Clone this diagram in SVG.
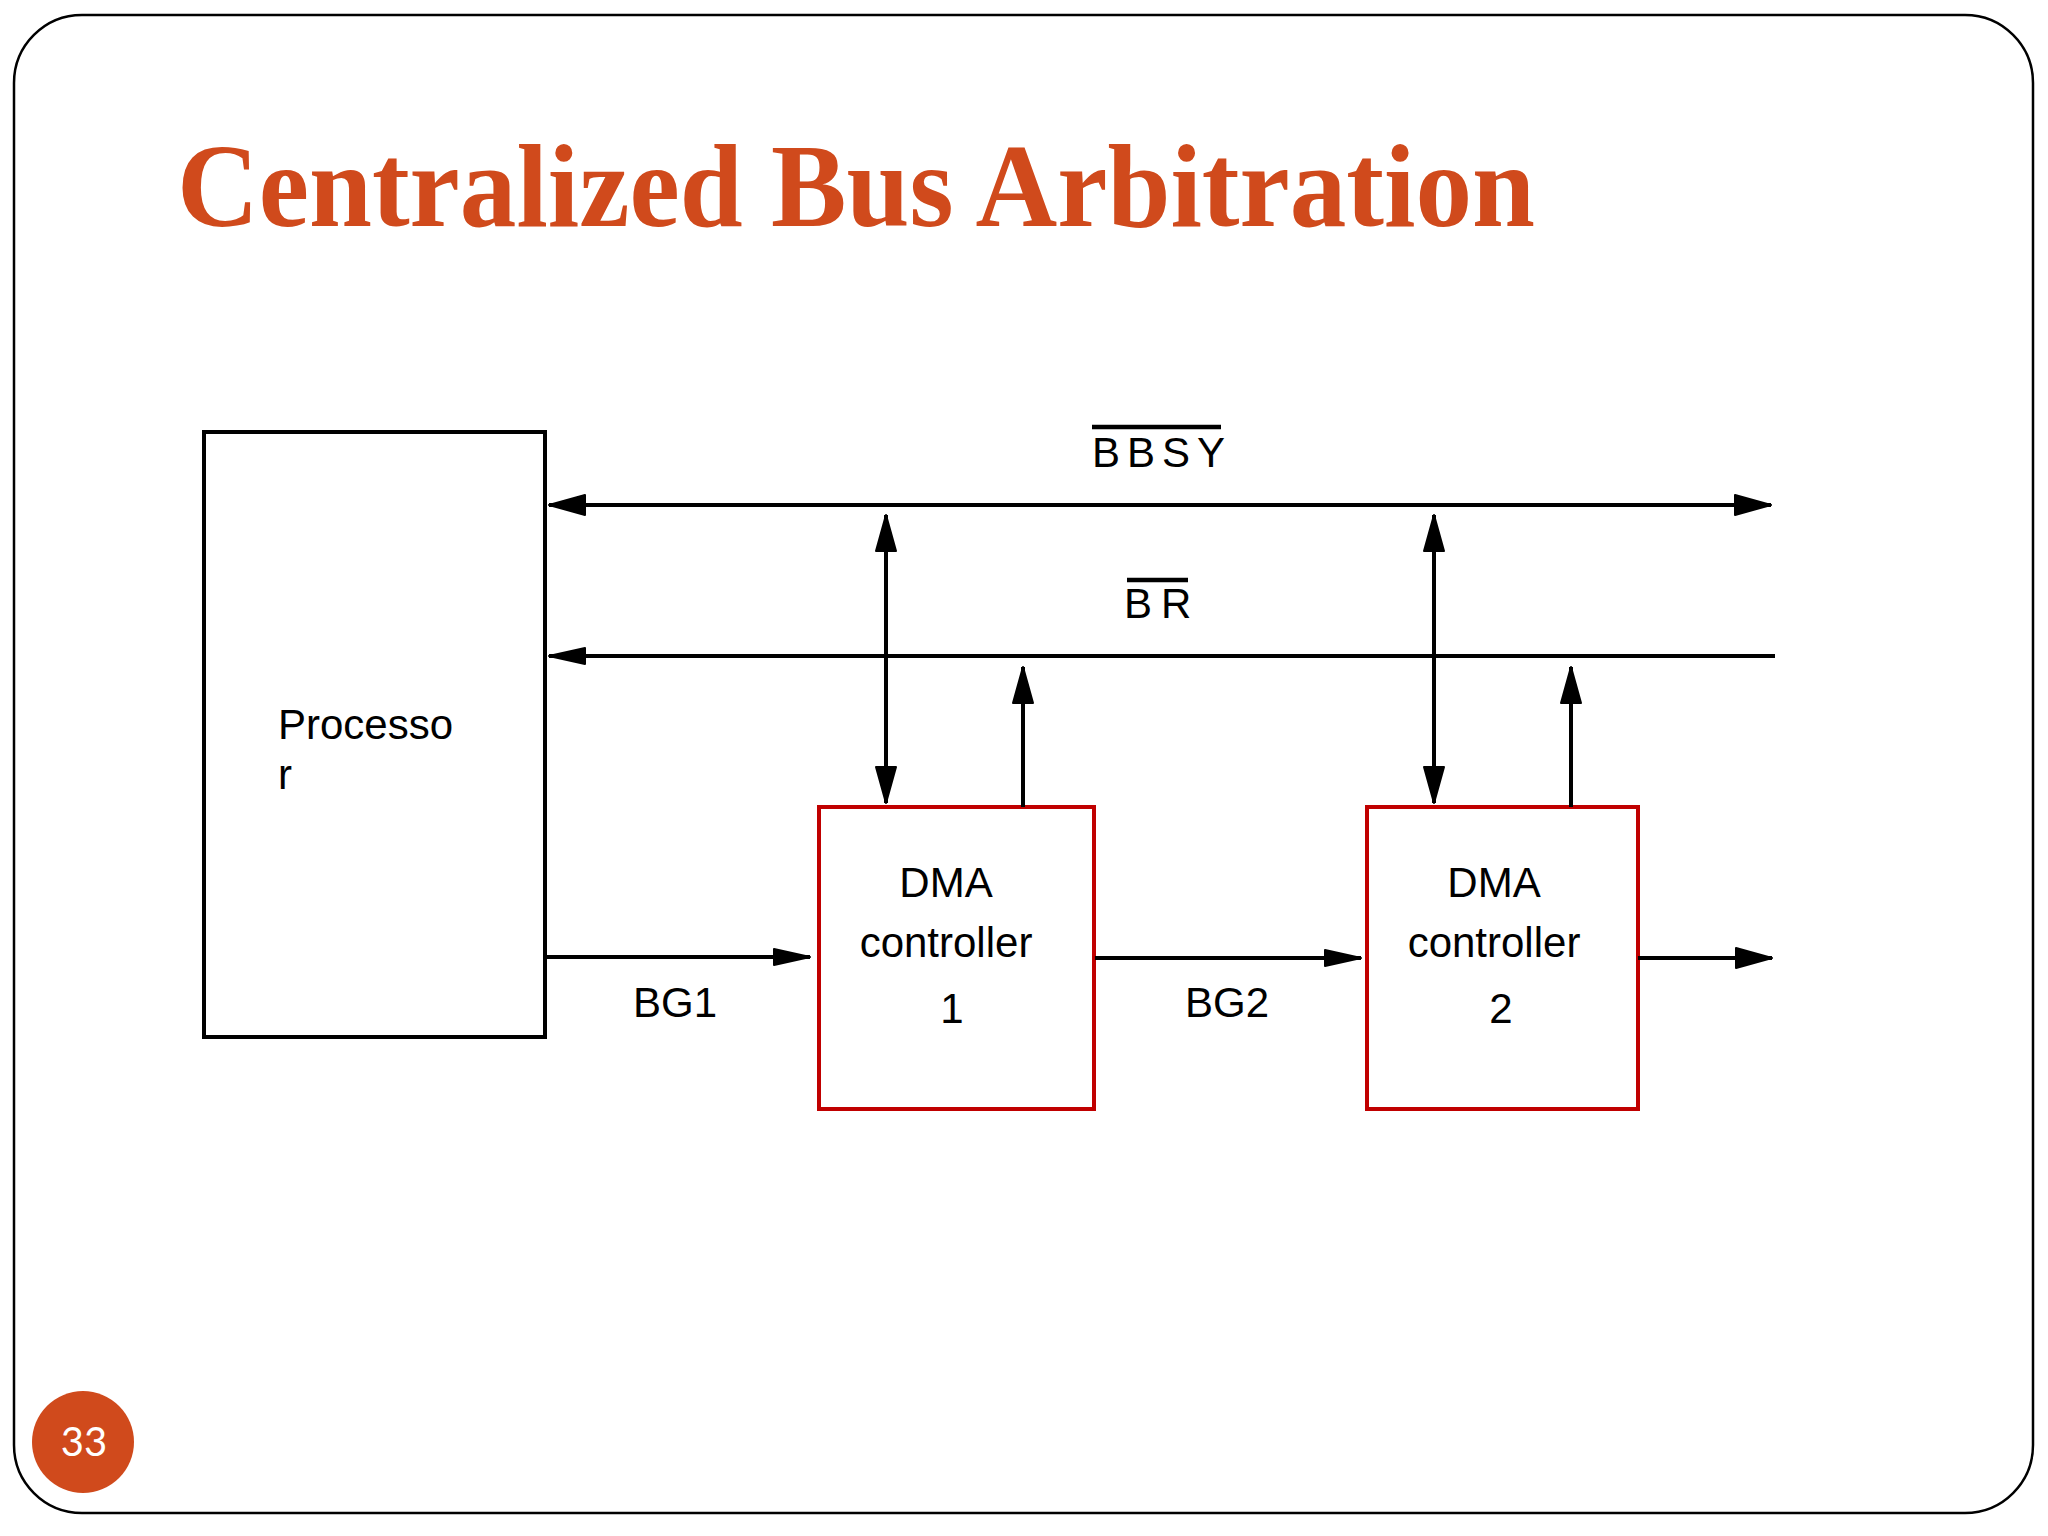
<svg xmlns="http://www.w3.org/2000/svg" width="2048" height="1536" viewBox="0 0 2048 1536">
  <defs>
    <style>
      .lbl { font-family: "Liberation Sans", Arial, sans-serif; font-size: 42px; fill: #000; }
      .wire { stroke: #000; stroke-width: 4; fill: none; }
      .box { fill: #fff; stroke: #000; stroke-width: 4; }
      .dma { fill: #fff; stroke: #C00000; stroke-width: 4; }
    </style>
    <marker id="ah" markerUnits="userSpaceOnUse" markerWidth="40" markerHeight="24" viewBox="0 0 40 24" refX="38" refY="12" orient="auto-start-reverse">
      <path d="M2,2 L38,12 L2,22 Z" fill="#000" stroke="#000" stroke-width="2" stroke-linejoin="round"/>
    </marker>
    <marker id="ahs" markerUnits="userSpaceOnUse" markerWidth="40" markerHeight="20" viewBox="0 0 40 20" refX="38" refY="10" orient="auto-start-reverse">
      <path d="M2,2 L38,10 L2,18 Z" fill="#000" stroke="#000" stroke-width="2" stroke-linejoin="round"/>
    </marker>
  </defs>

  <rect x="0" y="0" width="2048" height="1536" fill="#fff"/>
  <rect id="frame" x="14" y="15" width="2019" height="1498" rx="68" ry="68" fill="none" stroke="#000" stroke-width="2.5"/>

  <text id="title" x="177" y="226" font-family="'Liberation Serif', 'Times New Roman', serif" font-weight="bold" font-size="118" fill="#D04A1C" textLength="1358" lengthAdjust="spacingAndGlyphs">Centralized Bus Arbitration</text>

  <g id="processor">
    <rect class="box" x="204" y="432" width="341" height="605"/>
    <text class="lbl" x="278" y="739">Processo</text>
    <text class="lbl" x="278" y="789">r</text>
  </g>

  <g id="dma1">
    <rect class="dma" x="819" y="807" width="275" height="302"/>
    <text class="lbl" x="946" y="897" text-anchor="middle">DMA</text>
    <text class="lbl" x="946" y="957" text-anchor="middle">controller</text>
    <text class="lbl" x="952" y="1023" text-anchor="middle">1</text>
  </g>

  <g id="dma2">
    <rect class="dma" x="1367" y="807" width="271" height="302"/>
    <text class="lbl" x="1494" y="897" text-anchor="middle">DMA</text>
    <text class="lbl" x="1494" y="957" text-anchor="middle">controller</text>
    <text class="lbl" x="1501" y="1023" text-anchor="middle">2</text>
  </g>

  <g id="connectors">
    <line class="wire" x1="549" y1="505" x2="1771" y2="505" marker-start="url(#ah)" marker-end="url(#ah)"/>
    <line class="wire" x1="549" y1="656" x2="1775" y2="656" marker-start="url(#ahs)"/>
    <line class="wire" x1="886" y1="515" x2="886" y2="803" marker-start="url(#ah)" marker-end="url(#ah)"/>
    <line class="wire" x1="1434" y1="515" x2="1434" y2="803" marker-start="url(#ah)" marker-end="url(#ah)"/>
    <line class="wire" x1="1023" y1="807" x2="1023" y2="667" marker-end="url(#ah)"/>
    <line class="wire" x1="1571" y1="807" x2="1571" y2="667" marker-end="url(#ah)"/>
    <line class="wire" x1="545" y1="957" x2="810" y2="957" marker-end="url(#ahs)"/>
    <line class="wire" x1="1095" y1="958" x2="1361" y2="958" marker-end="url(#ahs)"/>
    <line class="wire" x1="1638" y1="958" x2="1772" y2="958" marker-end="url(#ah)"/>
  </g>

  <g id="labels">
    <text class="lbl" x="1092" y="467" font-size="41" letter-spacing="7">BBSY</text>
    <line x1="1092" y1="427" x2="1221" y2="427" stroke="#000" stroke-width="4.5"/>
    <text class="lbl" x="1124" y="618" font-size="41" letter-spacing="9">BR</text>
    <line x1="1127" y1="580" x2="1188" y2="580" stroke="#000" stroke-width="4.5"/>
    <text class="lbl" x="633" y="1017">BG1</text>
    <text class="lbl" x="1185" y="1017">BG2</text>
  </g>

  <g id="page-number">
    <circle cx="83" cy="1442" r="51" fill="#D04A1C"/>
    <text x="84" y="1456" text-anchor="middle" font-family="Lato, 'Open Sans', sans-serif" font-size="40" fill="#fff">33</text>
  </g>
</svg>
